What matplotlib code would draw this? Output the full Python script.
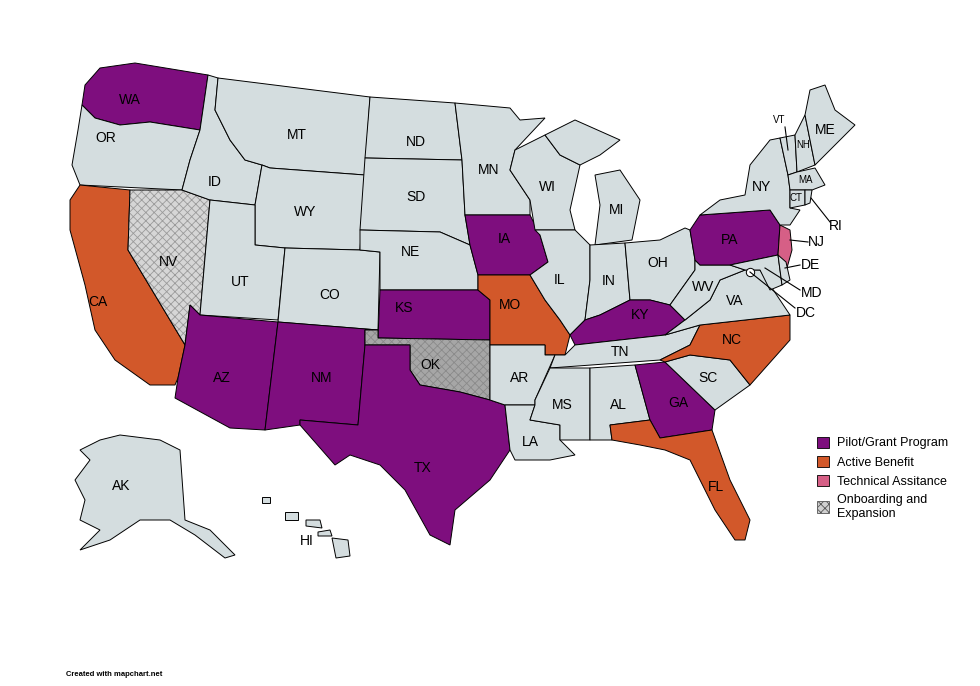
import matplotlib
matplotlib.use("Agg")
import matplotlib.pyplot as plt
from matplotlib.patches import Polygon, Patch
import numpy as np

# Approximate state outlines in reference-image coordinates
shapes = {
 "WA": [(100,68),(135,63),(208,75),(200,130),(150,122),(120,125),(95,118),(82,105),(85,85)],
 "OR": [(82,105),(95,118),(120,125),(150,122),(200,130),(190,160),(182,190),(80,185),(72,165),(78,130)],
 "CA": [(80,185),(130,190),(128,250),(185,345),(178,378),(175,385),(150,385),(115,360),(95,330),(85,285),(70,230),(70,200)],
 "NV": [(130,190),(182,190),(210,200),(200,315),(190,305),(185,345),(128,250)],
 "ID": [(208,75),(218,78),(215,110),(230,140),(245,160),(262,165),(255,205),(210,200),(182,190),(190,160),(200,130)],
 "MT": [(218,78),(370,97),(365,175),(270,168),(262,165),(245,160),(230,140),(215,110)],
 "WY": [(262,165),(270,168),(365,175),(360,250),(285,248),(255,245),(255,205)],
 "UT": [(210,200),(255,205),(255,245),(285,248),(278,320),(200,315)],
 "CO": [(285,248),(360,250),(380,252),(378,330),(278,322)],
 "AZ": [(200,315),(278,322),(265,430),(230,428),(175,398),(178,378),(185,345),(190,305)],
 "NM": [(278,322),(378,330),(365,330),(365,345),(358,425),(300,420),(300,425),(265,430)],
 "ND": [(370,97),(455,103),(462,160),(365,158)],
 "SD": [(365,158),(462,160),(465,215),(470,245),(440,232),(360,230)],
 "NE": [(360,230),(440,232),(470,245),(478,275),(478,290),(380,290),(380,252),(360,250)],
 "KS": [(380,290),(478,290),(490,300),(490,340),(378,338)],
 "OK": [(365,330),(378,330),(378,338),(490,340),(490,400),(460,392),(420,385),(410,370),(410,345),(365,345)],
 "TX": [(365,345),(410,345),(410,370),(420,385),(460,392),(490,400),(505,405),(510,450),(490,480),(455,510),(450,545),(430,535),(405,490),(380,465),(350,455),(335,465),(300,425),(300,420),(358,425)],
 "MN": [(455,103),(510,108),(520,120),(545,118),(515,150),(510,170),(530,200),(530,215),(465,215),(462,160)],
 "IA": [(465,215),(530,215),(540,235),(548,262),(530,275),(478,275),(470,245)],
 "MO": [(478,275),(530,275),(545,300),(560,320),(570,335),(565,355),(545,355),(545,345),(490,345),(490,300),(478,290)],
 "AR": [(490,345),(545,345),(545,355),(555,355),(535,400),(535,405),(505,405),(490,400)],
 "LA": [(505,405),(535,405),(530,420),(560,425),(560,440),(575,455),(550,460),(515,460),(510,450)],
 "WI": [(515,150),(545,135),(560,155),(580,165),(570,210),(575,230),(535,230),(530,200),(510,170)],
 "IL": [(535,230),(575,230),(590,245),(590,280),(585,320),(570,335),(560,320),(545,300),(530,275),(548,262),(540,235)],
 "MI": [(595,175),(620,170),(640,200),(632,240),(595,245),(600,205)],
 "MIU": [(545,135),(575,120),(620,140),(600,155),(580,165),(560,155)],
 "IN": [(590,245),(625,243),(630,300),(600,315),(585,320),(590,280)],
 "OH": [(625,243),(660,240),(685,228),(690,230),(695,260),(695,270),(670,305),(650,300),(630,300)],
 "KY": [(570,335),(585,320),(600,315),(630,300),(650,300),(670,305),(685,320),(665,335),(575,345)],
 "TN": [(555,355),(565,355),(575,345),(665,335),(700,325),(690,345),(660,360),(550,368)],
 "MS": [(535,400),(550,368),(590,368),(590,440),(560,440),(560,425),(530,420),(535,405)],
 "AL": [(590,368),(635,365),(650,420),(610,425),(612,440),(590,440)],
 "GA": [(635,365),(665,362),(715,410),(712,430),(660,438),(650,420)],
 "FL": [(610,425),(650,420),(660,438),(712,430),(730,480),(750,520),(745,540),(735,540),(715,510),(700,480),(690,460),(665,450),(640,445),(612,440)],
 "SC": [(665,362),(690,355),(730,360),(750,385),(715,410)],
 "NC": [(660,360),(690,345),(700,325),(790,315),(790,340),(750,385),(730,360),(690,355),(665,362)],
 "VA": [(665,335),(685,320),(710,300),(720,280),(745,270),(760,270),(770,285),(790,315),(700,325)],
 "WV": [(670,305),(695,270),(695,260),(700,265),(730,265),(745,270),(720,280),(710,300),(685,320)],
 "PA": [(690,230),(700,215),(770,210),(780,225),(778,255),(730,265),(700,265),(695,260)],
 "NJ": [(780,225),(790,230),(792,250),(785,275),(770,270),(778,255)],
 "NY": [(700,215),(720,200),(745,195),(750,165),(770,140),(780,138),(788,175),(790,190),(790,208),(800,210),(790,225),(780,225),(770,210)],
 "VT": [(780,138),(795,135),(797,172),(788,175)],
 "NH": [(795,135),(805,115),(815,165),(797,172)],
 "ME": [(805,115),(810,90),(825,85),(835,110),(855,125),(835,145),(815,165)],
 "MA": [(788,175),(797,172),(815,168),(825,185),(812,190),(790,190)],
 "CT": [(790,190),(805,190),(805,205),(790,208)],
 "RI": [(805,190),(812,190),(810,203),(805,205)],
 "MD": [(730,265),(778,255),(782,285),(770,290),(760,270),(745,270)],
 "DE": [(778,255),(786,262),(790,280),(782,285)],
 "AK": [(120,435),(160,440),(180,450),(185,520),(210,530),(235,555),(225,558),(195,535),(170,520),(140,520),(110,540),(80,550),(100,530),(80,520),(85,500),(75,480),(90,460),(80,450),(100,440)],
 "HI1": [(262,497),(270,497),(270,503),(262,503)],
 "HI2": [(285,512),(298,512),(298,520),(285,520)],
 "HI3": [(306,520),(320,520),(322,528),(306,526)],
 "HI4": [(318,532),(330,530),(332,536),(318,536)],
 "HI5": [(332,538),(348,540),(350,556),(336,558)],
}

categories = ["Pilot/Grant Program", "Active Benefit", "Technical Assitance", "Onboarding and\nExpansion"]
pilot = ["WA", "AZ", "NM", "TX", "KS", "IA", "KY", "GA", "PA"]
active = ["CA", "MO", "NC", "FL"]
technical = ["NJ"]
onboarding = ["NV", "OK"]

colors = {"pilot": "#7E0E7E", "active": "#D2582A", "tech": "#D65F86", "none": "#D4DDDF"}

label_pos = {
 "WA": (130,100), "OR": (106,138), "CA": (98,302), "NV": (168,262), "ID": (215,182),
 "MT": (297,135), "WY": (305,212), "UT": (240,282), "CO": (330,295), "AZ": (222,378),
 "NM": (322,378), "ND": (416,142), "SD": (416,197), "NE": (410,252), "KS": (404,308),
 "OK": (430,365), "TX": (423,468), "MN": (489,170), "IA": (504,239), "MO": (510,305),
 "AR": (520,378), "LA": (530,442), "WI": (547,187), "IL": (560,280), "MI": (617,210),
 "IN": (609,281), "OH": (658,263), "KY": (640,315), "TN": (620,352), "MS": (562,405),
 "AL": (618,405), "GA": (678,403), "FL": (716,487), "SC": (708,378), "NC": (732,340),
 "VA": (735,301), "WV": (703,287), "PA": (730,240), "NY": (761,187), "ME": (825,130),
 "AK": (121,486), "HI": (307,541),
 "VT": (779,120), "NH": (803,145), "MA": (805,180), "CT": (796,198),
 "RI": (836,226), "NJ": (816,242), "DE": (810,265), "MD": (812,293), "DC": (806,313),
}
leaders = {"VT": [(785,127),(788,150)], "RI": [(830,222),(811,198)], "NJ": [(808,242),(790,240)],
           "DE": [(800,265),(785,268)], "MD": [(800,290),(765,268)], "DC": [(795,308),(750,272)]}

fig = plt.figure(figsize=(9.8, 6.86), dpi=100)
ax = fig.add_axes([0, 0, 1, 1])
ax.set_xlim(0, 980); ax.set_ylim(686, 0); ax.axis("off")

plt.rcParams["hatch.linewidth"] = 0.6
for name, pts in shapes.items():
    key = name[:2]
    hatch = None
    if key in pilot: fc = colors["pilot"]
    elif key in active: fc = colors["active"]
    elif key in technical: fc = colors["tech"]
    elif key == "NV": fc, hatch, hc = "#D6D6D6", "xxxx", "#9A9A9A"
    elif key == "OK": fc, hatch, hc = "#A6A6A6", "xxxx", "#8A8A8A"
    else: fc = colors["none"]
    if hatch:
        ax.add_patch(Polygon(pts, closed=True, facecolor=fc, edgecolor=hc, lw=0, hatch=hatch))
        ax.add_patch(Polygon(pts, closed=True, facecolor="none", edgecolor="black", lw=0.7))
    else:
        ax.add_patch(Polygon(pts, closed=True, facecolor=fc, edgecolor="black", lw=0.7))

ax.plot([750], [272], marker="o", ms=6, mfc="white", mec="black", mew=0.7)

for name, (x, y) in label_pos.items():
    ax.text(x, y, name, ha="center", va="center",
            fontsize=7 if name in {"VT", "NH", "MA", "CT"} else 10,
            family="Liberation Sans", color="black")
for name, seg in leaders.items():
    ax.plot([seg[0][0], seg[1][0]], [seg[0][1], seg[1][1]], color="black", lw=0.8)

handles = [Patch(facecolor=colors["pilot"], edgecolor="black", lw=0.6),
           Patch(facecolor=colors["active"], edgecolor="black", lw=0.6),
           Patch(facecolor=colors["tech"], edgecolor="black", lw=0.6),
           Patch(facecolor="#D0D0D0", edgecolor="#555555", hatch="xxxx", lw=0.6)]
ax.legend(handles, categories, loc="upper left", bbox_to_anchor=(0.822, 0.38),
          frameon=False, handlelength=1.0, handleheight=1.0,
          handletextpad=0.6, labelspacing=0.5, prop={"family": "Liberation Sans", "size": 9})

ax.text(66, 676, "Created with mapchart.net", fontsize=5.5, fontweight="bold", family="Liberation Sans")
fig.savefig("out.png", dpi=100, facecolor="white")
